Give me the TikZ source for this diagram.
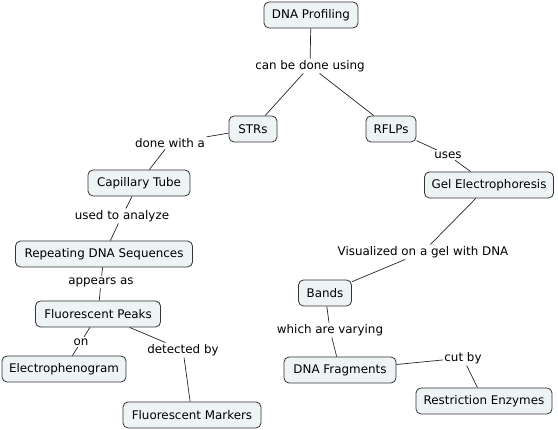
\documentclass[tikz,border=0pt]{standalone}
\usepackage{fontspec}
\setmainfont{DejaVu Sans}
\definecolor{boxfill}{HTML}{EEF3F5}
\definecolor{boxline}{HTML}{333333}
\begin{document}
\begin{tikzpicture}[x=1pt,y=-1pt,
  concept/.style={draw=boxline, fill=boxfill, rounded corners=5pt, line width=0.8pt,
    inner xsep=3pt, minimum height=26pt, font=\fontsize{11.9}{13}\selectfont},
  lbl/.style={inner sep=1.5pt, font=\fontsize{11.9}{13}\selectfont, fill=white},
  link/.style={draw=black!85, line width=0.7pt}]
\useasboundingbox (0,0) rectangle (558,430);
\fill[white] (0,0) rectangle (558,430);
% concepts
\node[concept, minimum width=94pt] (dna) at (311,15) {DNA Profiling};
\node[concept, minimum width=48pt] (str) at (253,129) {STRs};
\node[concept, minimum width=50pt] (rflp) at (391,129) {RFLPs};
\node[concept, minimum width=102pt] (cap) at (139,183) {Capillary Tube};
\node[concept, minimum width=129pt] (gel) at (489,185) {Gel Electrophoresis};
\node[concept, minimum width=177pt] (rep) at (104,254) {Repeating DNA Sequences};
\node[concept, minimum width=53pt] (bands) at (325,293) {Bands};
\node[concept, minimum width=125pt] (peaks) at (98,314) {Fluorescent Peaks};
\node[concept, minimum width=124pt] (elec) at (64,369) {Electrophenogram};
\node[concept, minimum width=112pt] (frag) at (340,370) {DNA Fragments};
\node[concept, minimum width=136pt] (enz) at (484,401) {Restriction Enzymes};
\node[concept, minimum width=138pt] (mark) at (192,415) {Fluorescent Markers};
% linking phrases
\node[lbl] (l1) at (310,66) {can be done using};
\node[lbl] (l2) at (170,143) {done with a};
\node[lbl] (l3) at (448,155) {uses};
\node[lbl] (l4) at (122,216) {used to analyze};
\node[lbl] (l5) at (423,252) {Visualized on a gel with DNA};
\node[lbl] (l6) at (101,282) {appears as};
\node[lbl] (l7) at (330,330) {which are varying};
\node[lbl] (l8) at (81,342) {on};
\node[lbl] (l9) at (183,350) {detected by};
\node[lbl] (l10) at (463,358) {cut by};
% connectors
\draw[link] (dna) -- (l1);
\draw[link] (l1) -- (str);
\draw[link] (l1) -- (rflp);
\draw[link] (str) -- (l2);
\draw[link] (l2) -- (cap);
\draw[link] (cap) -- (l4);
\draw[link] (l4) -- (rep);
\draw[link] (rep) -- (l6);
\draw[link] (l6) -- (peaks);
\draw[link] (peaks) -- (l8);
\draw[link] (l8) -- (elec);
\draw[link] (peaks) -- (l9);
\draw[link] (l9) -- (mark);
\draw[link] (rflp) -- (l3);
\draw[link] (l3) -- (gel);
\draw[link] (gel) -- (l5);
\draw[link] (l5) -- (bands);
\draw[link] (bands) -- (l7);
\draw[link] (l7) -- (frag);
\draw[link] (frag) -- (l10);
\draw[link] (l10) -- (enz);
\end{tikzpicture}
\end{document}
